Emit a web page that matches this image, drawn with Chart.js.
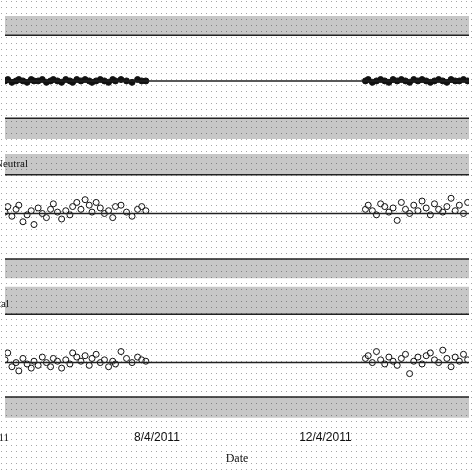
<!DOCTYPE html>
<html>
<head>
<meta charset="utf-8">
<script src="https://cdn.jsdelivr.net/npm/chart.js@4.4.1/dist/chart.umd.min.js"></script>
<style>
  html, body { margin: 0; padding: 0; background: #fff; }
  #wrap { width: 474px; height: 474px; }
</style>
</head>
<body>
<div id="wrap"><canvas id="c"></canvas></div>
<script>
// days since 16 Apr 2011
const datesA = [0, 2, 5, 8, 10, 13, 16, 19, 21, 24, 27, 30, 33, 35, 38, 41, 44, 47, 49, 52, 55, 58, 61, 63, 66, 69, 72, 75, 78, 80, 84, 88, 92, 96, 99, 102];
const datesB = [261, 263, 266, 269, 272, 275, 278, 281, 284, 287, 290, 293, 296, 299, 302, 305, 308, 311, 314, 317, 320, 323, 326, 329, 332, 335];
const tickDays = [110, 232];
const tickLabels = ['8/4/2011', '12/4/2011'];

const panels = ['y1', 'y2', 'y3'];
const centre = [45, 49, 41];
const upperLimit = [78, 77, 76];
const upperBandTop = [92, 92, 96];
const lowerLimit = [18, 16, 16];
const lowerBandBottom = [3, 2, 1];

const valuesTopA = [45, 46, 44, 45, 46, 45, 44, 46, 45, 45, 46, 44, 45, 46, 45, 44, 46, 45, 44, 46, 45, 46, 45, 44, 45, 46, 45, 44, 46, 45, 46, 45, 44, 46, 45, 45];
const valuesTopB = [45, 46, 44, 45, 46, 45, 44, 46, 45, 46, 45, 44, 46, 45, 46, 45, 44, 45, 46, 45, 44, 46, 45, 45, 46, 45];
const valuesMidA = [50, 54, 47, 52, 55, 43, 48, 51, 41, 53, 49, 46, 52, 56, 50, 45, 51, 48, 54, 57, 52, 59, 55, 50, 57, 53, 49, 51, 46, 54, 55, 50, 47, 52, 54, 51];
const valuesMidB = [52, 55, 51, 48, 56, 54, 50, 53, 44, 57, 52, 49, 55, 51, 58, 53, 48, 56, 52, 50, 54, 60, 51, 55, 49, 57];
const valuesBotA = [43, 48, 38, 41, 35, 44, 40, 37, 42, 39, 45, 41, 38, 44, 42, 37, 43, 40, 48, 45, 42, 46, 39, 44, 47, 41, 43, 38, 42, 40, 49, 44, 41, 45, 43, 42];
const valuesBotB = [44, 46, 41, 49, 43, 40, 45, 42, 39, 44, 47, 33, 42, 45, 40, 46, 48, 43, 41, 50, 44, 38, 45, 42, 47, 43];
const seriesA = [valuesTopA, valuesMidA, valuesBotA];
const seriesB = [valuesTopB, valuesMidB, valuesBotB];

const xMin = 0, xMax = 336;
const datasets = [];
panels.forEach((axis, i) => {
  const line = v => [{ x: xMin, y: v }, { x: xMax, y: v }];
  const band = (a, b) => {
    datasets.push({ type: 'line', data: line(b), yAxisID: axis, borderWidth: 0, pointRadius: 0, fill: false });
    datasets.push({ type: 'line', data: line(a), yAxisID: axis, borderWidth: 1.5, borderColor: '#222', pointRadius: 0,
      fill: '-1', backgroundColor: 'rgba(0,0,0,0.22)' });
  };
  band(upperLimit[i], upperBandTop[i]);
  band(lowerLimit[i], lowerBandBottom[i]);
  datasets.push({ type: 'line', data: line(centre[i]), yAxisID: axis, borderWidth: 1.5, borderColor: '#222', pointRadius: 0, fill: false });
  const pts = datesA.map((d, k) => ({ x: d, y: seriesA[i][k] }))
    .concat(datesB.map((d, k) => ({ x: d, y: seriesB[i][k] })));
  datasets.push({ type: 'scatter', data: pts, yAxisID: axis, pointRadius: 3,
    pointBorderColor: '#111', pointBorderWidth: 1,
    pointBackgroundColor: i === 0 ? '#111' : 'rgba(255,255,255,0.3)' });
});

const dotGrid = {
  id: 'dotGrid',
  beforeDraw(chart) {
    const ctx = chart.ctx;
    ctx.save();
    ctx.fillStyle = 'rgba(0,0,0,0.35)';
    for (let x = 1; x < chart.width; x += 5)
      for (let y = 1; y < chart.height; y += 6) ctx.fillRect(x, y, 1, 1);
    ctx.restore();
  }
};
const labels = {
  id: 'labels',
  afterDraw(chart) {
    const ctx = chart.ctx;
    ctx.save();
    ctx.font = '11px "Liberation Serif"';
    ctx.fillStyle = '#111';
    ctx.textAlign = 'right';
    ctx.fillText('Neutral', 28, 167);
    ctx.fillText('Total', 9, 307);
    ctx.fillText('4/4/2011', 9, 441);
    ctx.restore();
  }
};

const scales = {
  x: {
    type: 'linear', min: xMin, max: xMax,
    afterBuildTicks: s => { s.ticks = tickDays.map(v => ({ value: v })); },
    ticks: { callback: v => tickLabels[tickDays.indexOf(v)], color: '#111', font: { family: 'Liberation Sans', size: 12 }, maxRotation: 0 },
    grid: { display: false },
    border: { display: false },
    title: { display: true, text: 'Date', color: '#111', font: { family: 'Liberation Serif', size: 12 }, padding: { top: 4 } }
  }
};
// stacked axes are laid out bottom-up, so add the bottom panel first
panels.slice().reverse().forEach(axis => {
  scales[axis] = {
    type: 'linear', min: 0, max: 100, stack: 'panels', stackWeight: 1, offset: false,
    position: 'left', display: true,
    ticks: { display: false }, grid: { display: false }, border: { display: false },
    afterFit: s => { s.width = 0; }
  };
});

new Chart(document.getElementById('c'), {
  data: { datasets },
  options: {
    responsive: true, maintainAspectRatio: false, animation: false,
    layout: { padding: { left: -5, right: -5, top: 0, bottom: 4 } },
    plugins: { legend: { display: false }, tooltip: { enabled: false } },
    scales
  },
  plugins: [dotGrid, labels]
});
</script>
</body>
</html>
